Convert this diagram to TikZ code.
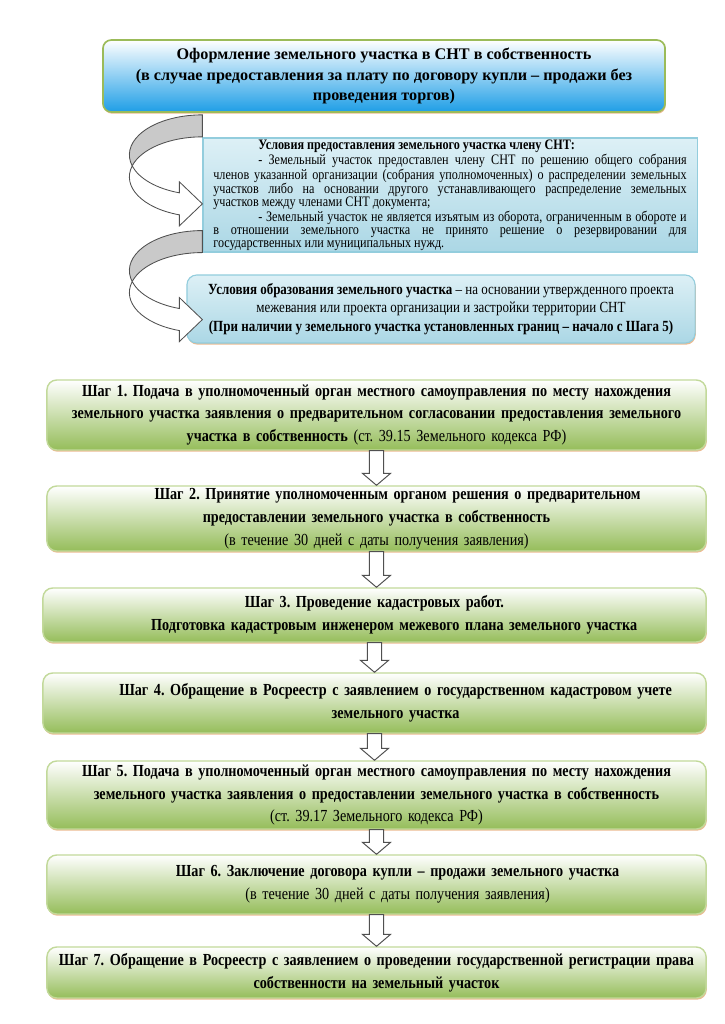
\documentclass[tikz,border=0pt]{standalone}
\usepackage{fontspec}
\setmainfont{Liberation Serif}
\newfontfamily\narrowfont[FakeStretch=0.84]{Liberation Serif}
\usetikzlibrary{calc,shadows}
\definecolor{TitleBlue}{HTML}{1E9EE6}
\definecolor{TitleEdge}{HTML}{9BBB59}
\definecolor{StepGreen}{HTML}{95BD5A}
\definecolor{StepEdge}{HTML}{C2D99A}
\definecolor{CondTop}{HTML}{DDF0F6}
\definecolor{CondBottom}{HTML}{ABD7E5}
\definecolor{CondEdge}{HTML}{93CDDD}
\definecolor{ShadowOrange}{HTML}{E39C62}
\definecolor{CurlGray}{HTML}{C9C9C9}
\definecolor{LineGray}{HTML}{505050}
\frenchspacing
\tikzset{titlebox/.style={rounded corners=6pt,draw=TitleEdge,line width=1.2pt,top color=white,bottom color=TitleBlue,align=center,inner sep=0pt,drop shadow={fill=ShadowOrange,opacity=.7,shadow xshift=.5pt,shadow yshift=-1.2pt}},condbox/.style={draw=CondEdge,line width=.8pt,top color=CondTop,bottom color=CondBottom,inner sep=0pt},stepbox/.style={rounded corners=7pt,draw=StepEdge,line width=1pt,top color=white,bottom color=StepGreen,minimum width=16.475cm,text width=16.3cm,align=center,inner sep=0pt,font=\narrowfont\fontsize{12}{16.3}\selectfont\bfseries,drop shadow={fill=ShadowOrange,opacity=.7,shadow xshift=.5pt,shadow yshift=-1.2pt}},hollow/.style={fill=white,draw=LineGray,line width=.7pt,line join=miter},curlback/.style={fill=CurlGray,draw=LineGray,line width=.6pt},curlfront/.style={fill=white,draw=LineGray,line width=.6pt},curl/.pic={
  \filldraw[curlback](0,0) arc[start angle=270,end angle=164.04,x radius=73,y radius=40] arc[start angle=195.96,end angle=270,x radius=73,y radius=40] -- cycle;
  \filldraw[curlfront](-70.2,51) arc[start angle=164.04,end angle=108.37,x radius=73,y radius=40] -- (-23,67) -- (0,89) -- (-23,111) -- (-23,100) arc[start angle=108.37,end angle=195.96,x radius=73,y radius=40] -- cycle;}}
\newcommand{\stepflow}[2]{\filldraw[hollow] let \p1=(#1.south),\p2=(#2.north) in ({\x1-5pt},\y1) -- ({\x1+5pt},\y1) -- ({\x1+5pt},{\y2+8.5pt}) -- ({\x1+10pt},{\y2+8.5pt}) -- (\x1,\y2) -- ({\x1-10pt},{\y2+8.5pt}) -- ({\x1-5pt},{\y2+8.5pt}) -- cycle;}

\begin{document}
\begin{tikzpicture}[x=0.025cm,y=-0.025cm]
      \useasboundingbox (0,0) rectangle (724,1024);
      \node[titlebox,minimum width=14.05cm,minimum height=1.8cm,font=\fontsize{11.5}{14.6}\selectfont\bfseries](title) at (384,76){Оформление земельного участка в СНТ в собственность\\(в случае предоставления за плату по договору купли – продажи без\\проведения торгов)};
      \node[condbox,minimum width=12.35cm,minimum height=2.85cm,text width=11.83cm,align=justify,font=\narrowfont\fontsize{10.3}{9.1}\selectfont,drop shadow={fill=black,opacity=.25,shadow xshift=1pt,shadow yshift=-1pt}](cond1) at (450,195){\hspace*{32pt}\textbf{Условия предоставления земельного участка члену СНТ:}\\
        \hspace*{32pt}- Земельный участок предоставлен члену СНТ по решению общего собрания\linebreak членов указанной организации (собрания уполномоченных) о распределении земельных\linebreak участков либо на основании другого устанавливающего распределение земельных\linebreak участков между членами СНТ документа;\\
        \hspace*{32pt}- Земельный участок не является изъятым из оборота, ограниченным в обороте и\linebreak в отношении земельного участка не принято решение о резервировании для\linebreak государственных или муниципальных нужд.};
      \node[condbox,rounded corners=7pt,minimum width=12.7cm,minimum height=1.7cm,align=center,font=\narrowfont\fontsize{11}{13}\selectfont,drop shadow={fill=ShadowOrange,opacity=.7,shadow xshift=.5pt,shadow yshift=-1.2pt}](cond2) at (441,309){\textbf{Условия образования земельного участка} – на основании утвержденного проекта\\межевания или проекта организации и застройки территории СНТ\\\textbf{(При наличии у земельного участка установленных границ – начало с Шага 5)}};
      \node[stepbox,minimum height=1.75cm](s1) at (376.5,415){Шаг 1. Подача в уполномоченный орган местного самоуправления по месту нахождения\\земельного участка заявления о предварительном согласовании предоставления земельного\\участка в собственность {\mdseries(ст. 39.15 Земельного кодекса РФ)}};
      \node[stepbox,minimum height=1.625cm](s2) at (376.5,518.5){\hspace*{30pt}Шаг 2. Принятие уполномоченным органом решения о предварительном\\предоставлении земельного участка в собственность\\{\mdseries(в течение 30 дней с даты получения заявления)}};
      \node[stepbox,minimum width=16.575cm,minimum height=1.35cm](s3) at (374.5,615){Шаг 3. Проведение кадастровых работ.\\\hspace*{28pt}Подготовка кадастровым инженером межевого плана земельного участка};
      \node[stepbox,minimum width=16.575cm,minimum height=1.5cm](s4) at (374.5,703){\hspace*{30pt}Шаг 4. Обращение в Росреестр с заявлением о государственном кадастровом учете\\\hspace*{30pt}земельного участка};
      \node[stepbox,minimum height=1.7cm](s5) at (376.5,795){Шаг 5. Подача в уполномоченный орган местного самоуправления по месту нахождения\\земельного участка заявления о предоставлении земельного участка в собственность\\{\mdseries(ст. 39.17 Земельного кодекса РФ)}};
      \node[stepbox,minimum height=1.475cm](s6) at (376.5,884.5){\hspace*{30pt}Шаг 6. Заключение договора купли – продажи земельного участка\\\hspace*{30pt}{\mdseries(в течение 30 дней с даты получения заявления)}};
      \node[stepbox,minimum height=1.275cm](s7) at (376.5,972.5){Шаг 7. Обращение в Росреестр с заявлением о проведении государственной регистрации права\\собственности на земельный участок};
      \path ($(cond1.west |- title.south)+(0,2)$) pic{curl};
      \path ($(cond1.south west)+(0,-22)$) pic{curl};
      \stepflow{s1}{s2}\stepflow{s2}{s3}\stepflow{s3}{s4}\stepflow{s4}{s5}\stepflow{s5}{s6}\stepflow{s6}{s7}
    \end{tikzpicture}
\end{document}
